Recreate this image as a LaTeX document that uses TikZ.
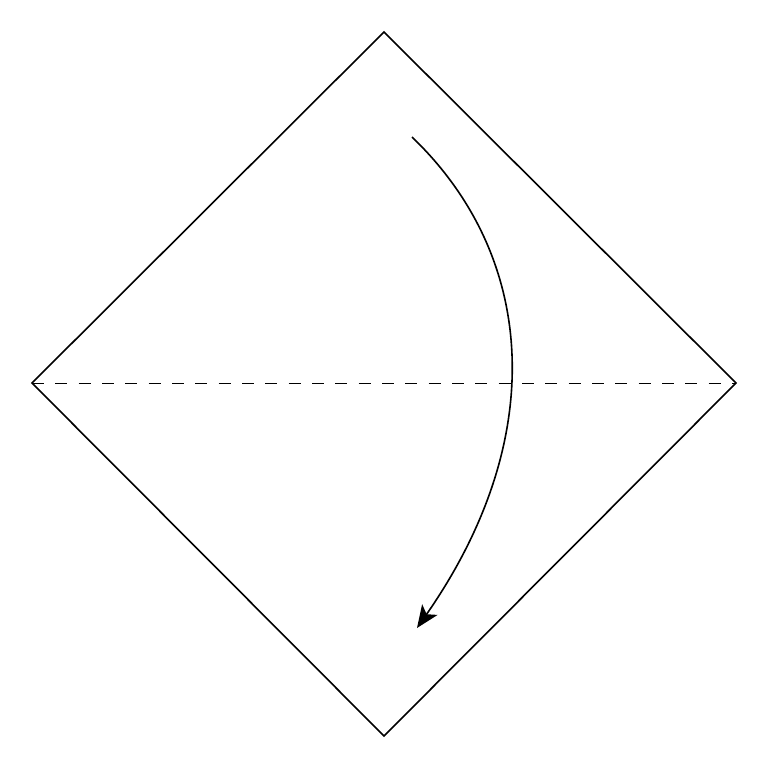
\documentclass[tikz,border=0pt]{standalone}
\usepackage{tikz}
\usetikzlibrary{arrows.meta}

\begin{document}
\begin{tikzpicture}[x=0.75pt,y=0.75pt,yscale=-1,xscale=1]
\useasboundingbox (0,0) rectangle (768,768);

% Corners
\coordinate (top) at (384,32);
\coordinate (right) at (736,383);
\coordinate (bottom) at (384,736);
\coordinate (left) at (32,383);
\coordinate (start) at (412,137);
\coordinate (tip) at (417,628);

%Shape: Square [id:dp_paper] 
\draw [line width=1.2]  (top) -- (right) -- (bottom) -- (left) -- cycle ;
%Straight Lines [id:da_fold] 
\draw [line width=0.6, dash pattern=on 9pt off 8.5pt]  (left) -- (right) ;
%Curve Lines [id:da_turn] 
\draw [line width=1.2, -{Stealth[length=12pt,width=10pt,inset=3pt,scale=1.4]}]  (start) .. controls (538,258) and (548,440) .. (tip) ;

\end{tikzpicture}
\end{document}
